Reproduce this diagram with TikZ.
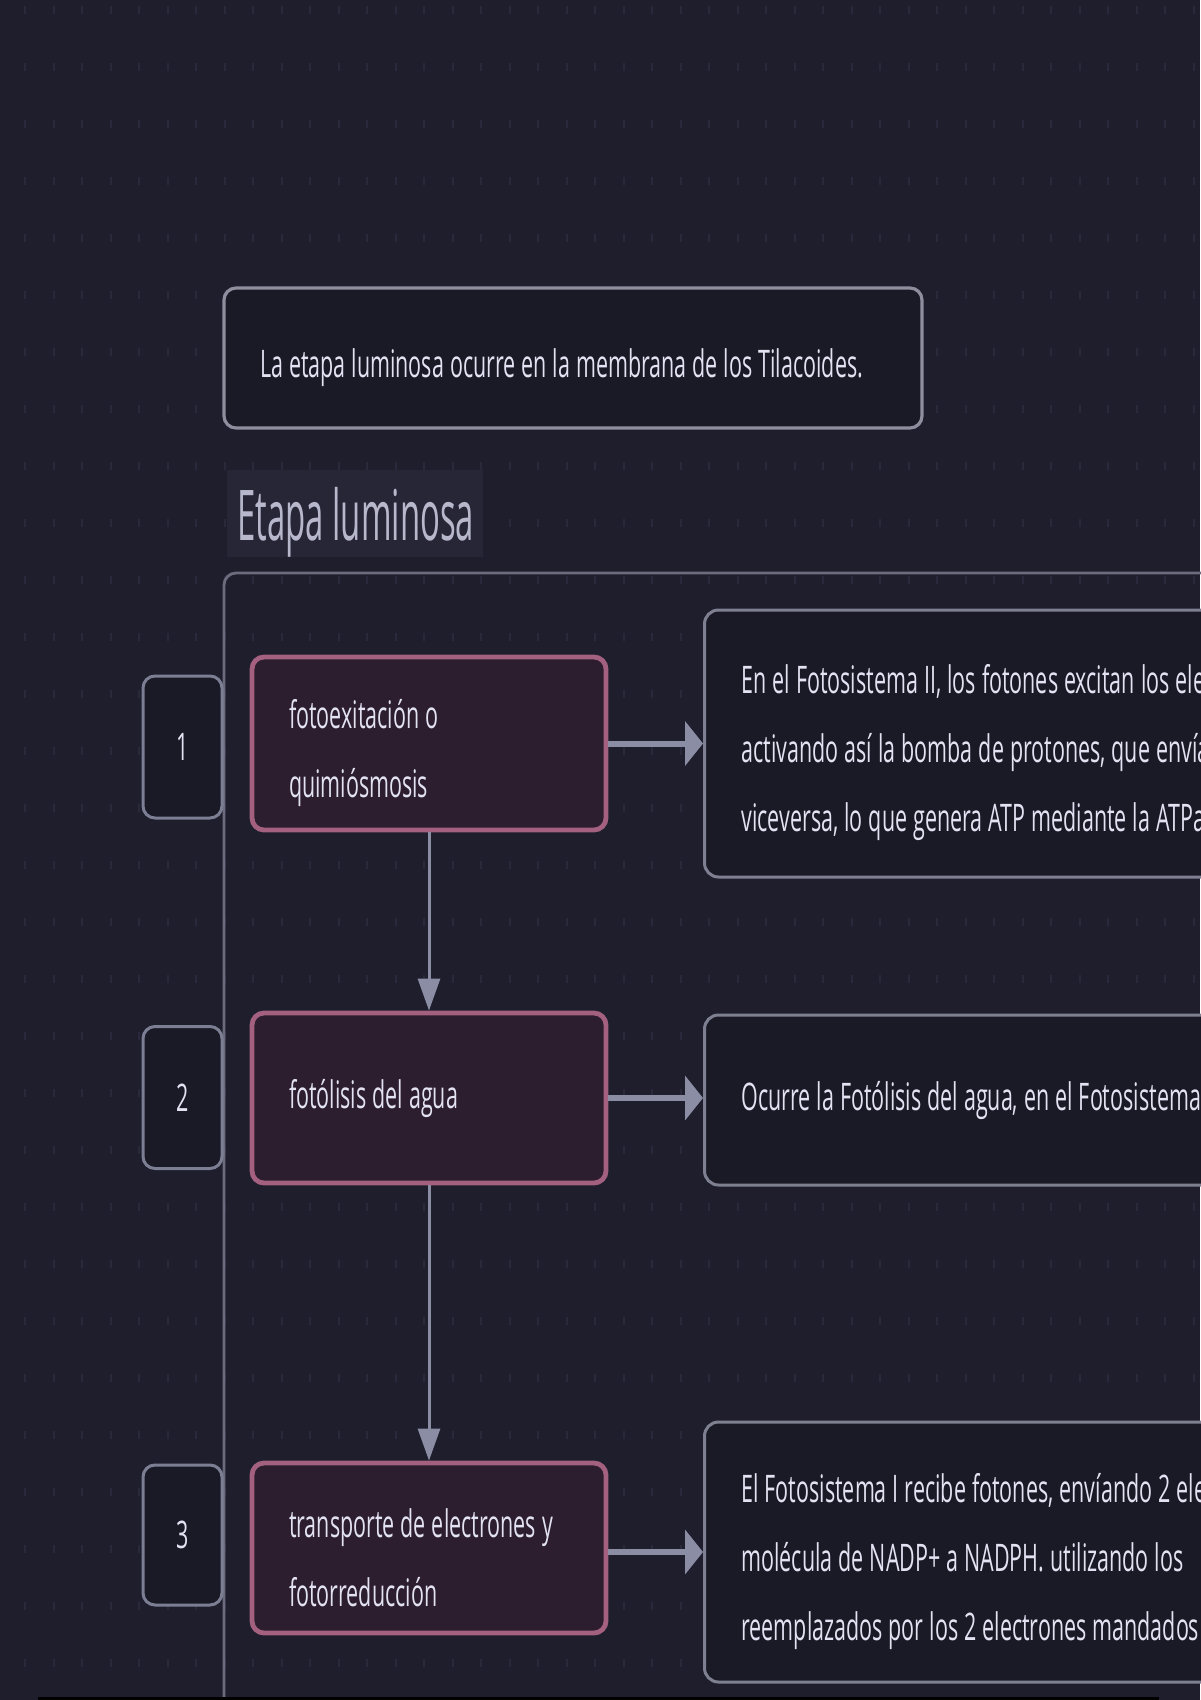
\documentclass[tikz,border=0pt]{standalone}
\usepackage{fontspec}
\setmainfont{Open Sans}[FakeStretch=0.565]
\newfontfamily\titlefont{Open Sans}[FakeStretch=0.47]
\usetikzlibrary{arrows.meta}
\newcommand\firstline{\rule{0pt}{24pt}}
\protected\def\tightspace{\spaceskip=3pt plus 1pt\relax\xspaceskip=3.4pt plus 1pt\relax}
\definecolor{bg}{HTML}{1E1E2D}
\definecolor{dotc}{HTML}{29293B}
\definecolor{topfill}{HTML}{1A1A27}
\definecolor{topborder}{HTML}{8E8E9E}
\definecolor{titlefill}{HTML}{262637}
\definecolor{contborder}{HTML}{6C6C7E}
\definecolor{numborder}{HTML}{7C7F93}
\definecolor{descborder}{HTML}{7E8092}
\definecolor{descfill}{HTML}{1A1A27}
\definecolor{pinkborder}{HTML}{A3617F}
\definecolor{pinkfill}{HTML}{2C1E2F}
\definecolor{arrowc}{HTML}{8A8DA3}
\definecolor{txt}{HTML}{E2E2F2}
\definecolor{titletxt}{HTML}{B8B8CC}
\begin{document}
\begin{tikzpicture}[x=0.5pt,y=-0.5pt,
  bodyfont/.style={font=\fontsize{19pt}{34.5pt}\selectfont, text=txt, execute at begin node=\tightspace},
  introbox/.style={bodyfont, draw=topborder, line width=1.6pt, fill=topfill, rounded corners=6pt,
    minimum width=349pt, minimum height=70pt, text width=313pt, align=flush left, inner xsep=18pt, inner ysep=0pt},
  titlebox/.style={fill=titlefill, minimum width=128pt, minimum height=43.5pt, inner sep=0pt},
  titletextstyle/.style={anchor=base west, inner sep=0pt, font=\titlefont\fontsize{35pt}{40pt}\selectfont, text=titletxt},
  numbox/.style={bodyfont, draw=numborder, line width=1.5pt, fill=topfill, rounded corners=6pt,
    minimum width=39.5pt, minimum height=71pt, inner sep=0pt},
  pinkbox/.style={bodyfont, draw=pinkborder, line width=2.4pt, fill=pinkfill, rounded corners=6pt,
    minimum height=85pt, text width=140pt, align=flush left, inner xsep=18.5pt, inner ysep=0pt},
  descbox/.style={bodyfont, draw=descborder, line width=1.5pt, fill=descfill, rounded corners=7pt,
    text width=300pt, align=flush left, inner xsep=18.5pt, inner ysep=0pt, anchor=west},
  harrow/.style={draw=arrowc, line width=3pt, -{Triangle[length=9pt,width=22pt]}},
  varrow/.style={draw=arrowc, line width=1.5pt, -{Triangle[length=16pt,width=11pt]}}
]
\useasboundingbox (0,0) rectangle (1200,1700);
\fill[bg] (0,0) rectangle (1200,1700);
% dot grid
\foreach \i in {0,...,42}{
  \foreach \j in {0,...,29}{
    \fill[dotc] ({25+28.5*\i-1},{10+57*\j-4}) rectangle ({25+28.5*\i+1},{10+57*\j+4});
  }
}
% container
\draw[contborder, line width=1.4pt, rounded corners=6pt] (224,1760) -- (224,573) -- (1260,573);
% intro
\node[introbox] (intro) at (573,358) {\firstline\mbox{La etapa luminosa ocurre en la membrana de los Tilacoides.}};
\node[titlebox] (title) at (355,513.5) {};
\node[titletextstyle] (titletext) at (237,540) {Etapa luminosa};
% numbers
\node[numbox] (n1) at (182.5,747) {1};
\node[numbox] (n2) at (182.5,1097.5) {2};
\node[numbox, minimum height=70pt] (n3) at (182.5,1535) {3};
% pink step boxes
\node[pinkbox, minimum height=86.5pt] (p1) at (429,743.5) {\firstline\mbox{fotoexitación o}\\quimiósmosis};
\node[pinkbox] (p2) at (429,1098) {fotólisis del agua};
\node[pinkbox] (p3) at (429,1548) {\firstline\mbox{transporte de electrones y}\\fotorreducción};
% description boxes
\node[descbox, minimum height=133.5pt] (d1) at (703,743.5) {\firstline\mbox{En el Fotosistema II, los fotones excitan los ele}\\\mbox{activando así la bomba de protones, que envía}\\\mbox{viceversa, lo que genera ATP mediante la ATPa}};
\node[descbox, minimum height=85pt] (d2) at (703,1100) {\mbox{Ocurre la Fotólisis del agua, en el Fotosistema}};
\node[descbox, minimum height=130pt] (d3) at (703,1552) {\firstline\mbox{El Fotosistema I recibe fotones, envíando 2 ele}\\\mbox{molécula de NADP+ a NADPH. utilizando los}\\\mbox{reemplazados por los 2 electrones mandados}};
% connectors
\draw[harrow] (p1.east) -- (p1.east -| d1.west);
\draw[harrow] (p2.east) -- (p2.east -| d2.west);
\draw[harrow] (p3.east |- d3.west) -- (d3.west);
\draw[varrow] (p1.south) -- (p2.north);
\draw[varrow] (p2.south) -- (p3.north);
% bottom strip
\fill[black] (38,1697) rectangle (1159,1700);
\end{tikzpicture}
\end{document}
